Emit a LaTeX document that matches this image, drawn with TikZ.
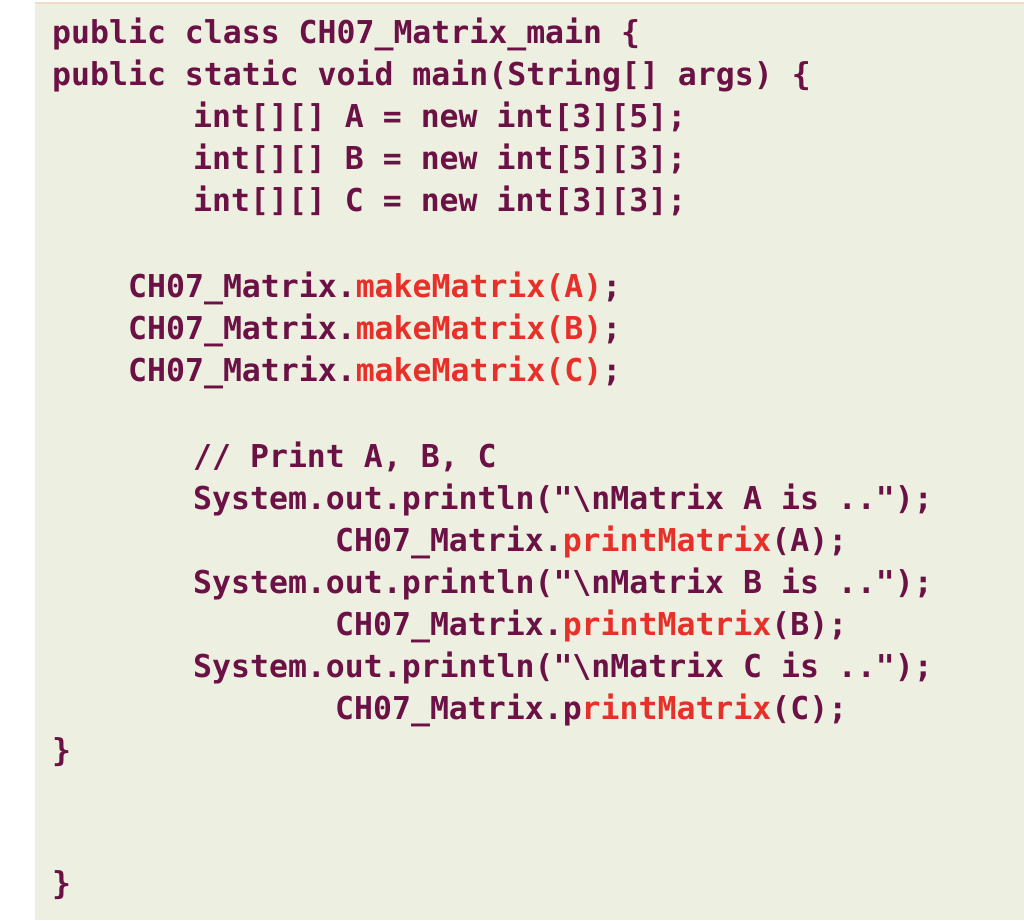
\documentclass[tikz,border=0pt]{standalone}
\usepackage{fontspec}
\setmonofont{DejaVu Sans Mono}
\definecolor{bg}{HTML}{EDF0E0}
\definecolor{pur}{HTML}{6B1145}
\definecolor{rd}{HTML}{E8302A}
\definecolor{topl}{HTML}{F2DCC8}
\newcommand{\rr}[1]{\textcolor{rd}{#1}}
\begin{document}
\begin{tikzpicture}[x=1pt,y=1pt,
  code/.style={anchor=base west,inner sep=0pt,text=pur,font=\ttfamily\bfseries\fontsize{31.5}{38}\selectfont}]
\useasboundingbox (0,0) rectangle (1024,920);
\fill[white] (0,0) rectangle (1024,920);
\fill[bg] (35,0) rectangle (1024,917);
\draw[topl,line width=1.5pt] (35,917) -- (1024,917);
\def\bl#1{\the\numexpr 920-#1\relax}
\node[code] (l1) at (52,876) {public class CH07\_Matrix\_main \{};
\node[code] (l2) at (52,834) {public static void main(String[] args) \{};
\node[code] (l3) at (193,792) {int[][] A = new int[3][5];};
\node[code] (l4) at (193,750) {int[][] B = new int[5][3];};
\node[code] (l5) at (193,708) {int[][] C = new int[3][3];};
\node[code] (l6) at (128,622) {CH07\_Matrix.\rr{makeMatrix(A}\rr{)};};
\node[code] (l7) at (128,580) {CH07\_Matrix.\rr{makeMatrix(B}\rr{)};};
\node[code] (l8) at (128,538) {CH07\_Matrix.\rr{makeMatrix(C}\rr{)};};
\node[code] (l9) at (193,452) {// Print A, B, C};
\node[code] (l10) at (193,410) {System.out.println("\textbackslash nMatrix A is ..");};
\node[code] (l11) at (335,368) {CH07\_Matrix.\rr{printMatrix}(A);};
\node[code] (l12) at (193,326) {System.out.println("\textbackslash nMatrix B is ..");};
\node[code] (l13) at (335,284) {CH07\_Matrix.\rr{printMatrix}(B);};
\node[code] (l14) at (193,242) {System.out.println("\textbackslash nMatrix C is ..");};
\node[code] (l15) at (335,200) {CH07\_Matrix.p\rr{rintMatrix}(C);};
\node[code] (l16) at (52,158) {\}};
\node[code] (l17) at (52,26) {\}};
\end{tikzpicture}
\end{document}
